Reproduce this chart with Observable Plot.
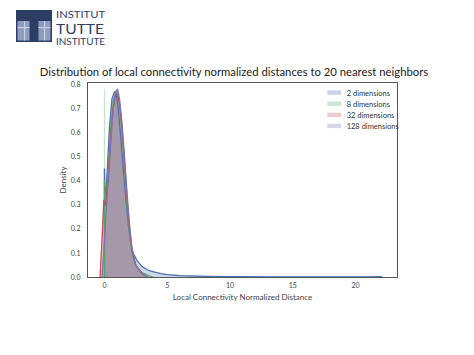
<!DOCTYPE html>
<html>
<head>
<meta charset="utf-8">
<script src="https://cdn.jsdelivr.net/npm/d3@7"></script>
<script src="https://cdn.jsdelivr.net/npm/@observablehq/plot@0.6"></script>
<style>
  body { margin: 0; background: #fff; width: 474px; height: 355px; position: relative; overflow: hidden; font-family: Lato, "Open Sans", sans-serif; }
  #chart { position: absolute; left: 0; top: 0; }
  #title { position: absolute; left: 37px; width: 394px; top: 65px; text-align: center; font-size: 11.3px; color: #222; white-space: nowrap; }
  #logo { position: absolute; left: 0; top: 0; }
</style>
</head>
<body>
<div id="chart"></div>
<div id="title">Distribution of local connectivity normalized distances to 20 nearest neighbors</div>
<svg id="logo" width="120" height="50" viewBox="0 0 120 50">
  <rect x="16" y="10" width="36" height="32" fill="#2c3e63"/>
  <rect x="17.5" y="21" width="12" height="19.5" fill="#8e9cbf"/>
  <rect x="38.5" y="21" width="12" height="19.5" fill="#8e9cbf"/>
  <rect x="17.5" y="27" width="12" height="1.2" fill="#c9d1e3"/>
  <rect x="38.5" y="27" width="12" height="1.2" fill="#c9d1e3"/>
  <rect x="24" y="21" width="1.2" height="19.5" fill="#c9d1e3"/>
  <rect x="44" y="21" width="1.2" height="19.5" fill="#c9d1e3"/>
  <text x="56" y="18" font-family="Lato, sans-serif" font-size="9" fill="#2c3e63" textLength="49" lengthAdjust="spacingAndGlyphs">INSTITUT</text>
  <text x="56" y="33.5" font-family="Lato, sans-serif" font-size="14" fill="#2c3e63" textLength="48" lengthAdjust="spacingAndGlyphs">TUTTE</text>
  <text x="56" y="45" font-family="Lato, sans-serif" font-size="8.5" fill="#2c3e63" textLength="49" lengthAdjust="spacingAndGlyphs">INSTITUTE</text>
</svg>
<script>
const seriesNames = ["2 dimensions", "8 dimensions", "32 dimensions", "128 dimensions"];
const seriesColors = ["#4c72b0", "#55a868", "#c44e52", "#8172b2"];

const x2 = [0, 0, 0.08, 0.2, 0.4, 0.6, 0.8, 0.95, 1.1, 1.3, 1.5, 1.7, 1.9, 2.1, 2.3, 2.6, 3.0, 3.5, 4.0, 4.5, 5.0, 6, 8, 10, 14, 18, 21, 22, 22.2];
const y2 = [0, 0.45, 0.30, 0.42, 0.62, 0.74, 0.77, 0.76, 0.70, 0.58, 0.45, 0.33, 0.22, 0.14, 0.10, 0.07, 0.045, 0.03, 0.022, 0.016, 0.012, 0.008, 0.005, 0.004, 0.003, 0.003, 0.003, 0.004, 0];

const x8 = [0, 0, 0.03, 0.1, 0.3, 0.5, 0.7, 0.9, 1.05, 1.2, 1.4, 1.6, 1.8, 2.0, 2.2, 2.5, 3, 3.5, 4];
const y8 = [0, 0.40, 0.36, 0.30, 0.45, 0.62, 0.73, 0.77, 0.77, 0.72, 0.60, 0.45, 0.30, 0.18, 0.10, 0.05, 0.02, 0.008, 0];
// thin spike of the 8-dimension density at zero
const spike8X = [0];
const spike8Y = [0.78];

const x32 = [-0.35, -0.2, -0.05, 0.1, 0.3, 0.5, 0.7, 0.9, 1.05, 1.2, 1.4, 1.6, 1.8, 2.0, 2.2, 2.5, 3, 3.5];
const y32 = [0, 0.15, 0.32, 0.30, 0.42, 0.58, 0.70, 0.76, 0.76, 0.72, 0.62, 0.48, 0.33, 0.20, 0.11, 0.05, 0.015, 0];

const x128 = [-0.2, 0, 0.1, 0.3, 0.5, 0.7, 0.9, 1.05, 1.2, 1.4, 1.6, 1.8, 2.0, 2.2, 2.5, 3, 3.5];
const y128 = [0, 0.15, 0.25, 0.40, 0.56, 0.70, 0.77, 0.78, 0.74, 0.64, 0.50, 0.35, 0.22, 0.12, 0.05, 0.015, 0];

const xTicks = [0, 5, 10, 15, 20];
const yTicks = [0, 0.1, 0.2, 0.3, 0.4, 0.5, 0.6, 0.7, 0.8];

const xs = [x2, x8, x32, x128];
const ys = [y2, y8, y32, y128];
const data = [];
seriesNames.forEach((s, i) => xs[i].forEach((x, j) => data.push({series: s, x, y: ys[i][j]})));
const spike = spike8X.map((x, i) => ({series: seriesNames[1], x, y: spike8Y[i]}));

const legend = seriesNames.map((s, i) => ({
  series: s,
  lx1: 17.8, lx2: 18.9, tx: 19.3,
  ly1: 0.755 - i * 0.046, ly2: 0.773 - i * 0.046, ty: 0.764 - i * 0.046
}));

const plot = Plot.plot({
  width: 474,
  height: 355,
  marginLeft: 87,
  marginRight: 77,
  marginTop: 82,
  marginBottom: 78,
  style: {fontFamily: "Lato, sans-serif", fontSize: "7px", color: "#444", background: "transparent"},
  x: {domain: [-1.35, 23.35], ticks: xTicks, tickSize: 0, tickPadding: 6, tickFormat: d => String(d), label: "Local Connectivity Normalized Distance", labelAnchor: "center", labelArrow: "none", labelOffset: 22},
  y: {domain: [0, 0.808], ticks: yTicks, tickSize: 0, tickPadding: 7, tickFormat: d3.format(".1f"), label: "Density", labelAnchor: "center", labelArrow: "none", labelOffset: 27},
  color: {domain: seriesNames, range: seriesColors},
  marks: [
    Plot.ruleX(spike, {x: "x", y1: 0, y2: "y", stroke: "series", strokeOpacity: 0.35, strokeWidth: 1.2}),
    Plot.areaY(data, {x: "x", y1: 0, y2: "y", z: "series", fill: "series", fillOpacity: 0.28, curve: "linear"}),
    Plot.lineY(data, {x: "x", y: "y", z: "series", stroke: "series", strokeWidth: 1.3, curve: "linear"}),
    Plot.frame({stroke: "#555", strokeWidth: 1}),
    Plot.rect(legend, {x1: "lx1", x2: "lx2", y1: "ly1", y2: "ly2", fill: "series", fillOpacity: 0.3}),
    Plot.text(legend, {x: "tx", y: "ty", text: "series", textAnchor: "start", fill: "#333", fontSize: 7.5})
  ]
});
plot.querySelectorAll("[aria-label='x-axis label'] text, [aria-label='y-axis label'] text").forEach(t => t.setAttribute("font-size", "8"));
document.getElementById("chart").appendChild(plot);
</script>
</body>
</html>
